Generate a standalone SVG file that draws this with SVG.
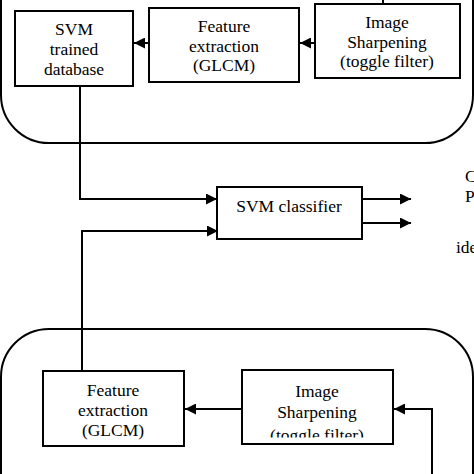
<svg xmlns="http://www.w3.org/2000/svg" width="474" height="474" viewBox="0 0 474 474">
<style>
.box{fill:#fff;stroke:#000;stroke-width:2}
.frame{fill:none;stroke:#000;stroke-width:2}
.ln{fill:none;stroke:#000;stroke-width:2}
text{font-family:"Liberation Serif","Times New Roman",serif;font-size:17.5px;fill:#000;text-anchor:middle}
.side{text-anchor:start}
</style>
<defs>
<marker id="ah" viewBox="0 0 10 10" refX="10" refY="5" markerWidth="11" markerHeight="11" markerUnits="userSpaceOnUse" orient="auto">
<path d="M0,0 L10,5 L0,10 Z" fill="#000"/>
</marker>
<clipPath id="clipBot"><rect x="242" y="370" width="152" height="67.5"/></clipPath>
</defs>
<rect width="474" height="474" fill="#fff"/>
<g id="frames">
<path class="frame" d="M1,-10 V95 A48,48 0 0 0 49,143 H425 A48,48 0 0 0 473,95 V-10"/>
<path class="frame" d="M1,484 V377 A48,48 0 0 1 49,329 H425 A48,48 0 0 1 473,377 V484"/>
</g>
<g id="connectors">
<line class="ln" x1="383" y1="0" x2="383" y2="4"/>
<line class="ln" x1="315" y1="43" x2="300" y2="43" marker-end="url(#ah)"/>
<line class="ln" x1="149" y1="43" x2="134" y2="43" marker-end="url(#ah)"/>
<polyline class="ln" points="80,86 80,199 217,199" marker-end="url(#ah)"/>
<polyline class="ln" points="82,371 82,231 218,231" marker-end="url(#ah)"/>
<line class="ln" x1="362" y1="199" x2="411" y2="199" marker-end="url(#ah)"/>
<line class="ln" x1="362" y1="223" x2="411" y2="223" marker-end="url(#ah)"/>
<line class="ln" x1="242" y1="409" x2="185" y2="409" marker-end="url(#ah)"/>
<polyline class="ln" points="432,474 432,409 394,409" marker-end="url(#ah)"/>
</g>
<g id="svm-db">
<rect class="box" x="15" y="11" width="118" height="75"/>
<text x="74" y="35">SVM</text>
<text x="74" y="55">trained</text>
<text x="74" y="75">database</text>
</g>
<g id="feat-top">
<rect class="box" x="149" y="8" width="150" height="74"/>
<text x="224" y="32">Feature</text>
<text x="224" y="52">extraction</text>
<text x="224" y="71">(GLCM)</text>
</g>
<g id="sharp-top">
<rect class="box" x="315" y="4" width="145" height="74"/>
<text x="387" y="28">Image</text>
<text x="387" y="48">Sharpening</text>
<text x="387" y="67">(toggle filter)</text>
</g>
<g id="svm-classifier">
<rect class="box" x="217" y="187" width="145" height="52"/>
<text x="289" y="212">SVM classifier</text>
</g>
<g id="feat-bot">
<rect class="box" x="43" y="371" width="141" height="75"/>
<text x="113" y="396">Feature</text>
<text x="113" y="416">extraction</text>
<text x="113" y="436">(GLCM)</text>
</g>
<g id="sharp-bot">
<rect class="box" x="242" y="370" width="151" height="74"/>
<text x="317" y="397">Image</text>
<text x="317" y="418">Sharpening</text>
<text x="317" y="441" clip-path="url(#clipBot)">(toggle filter)</text>
</g>
<g id="side-labels">
<text class="side" x="465" y="182">C</text>
<text class="side" x="465" y="202">P</text>
<text class="side" x="456" y="253">ide</text>
</g>
</svg>
